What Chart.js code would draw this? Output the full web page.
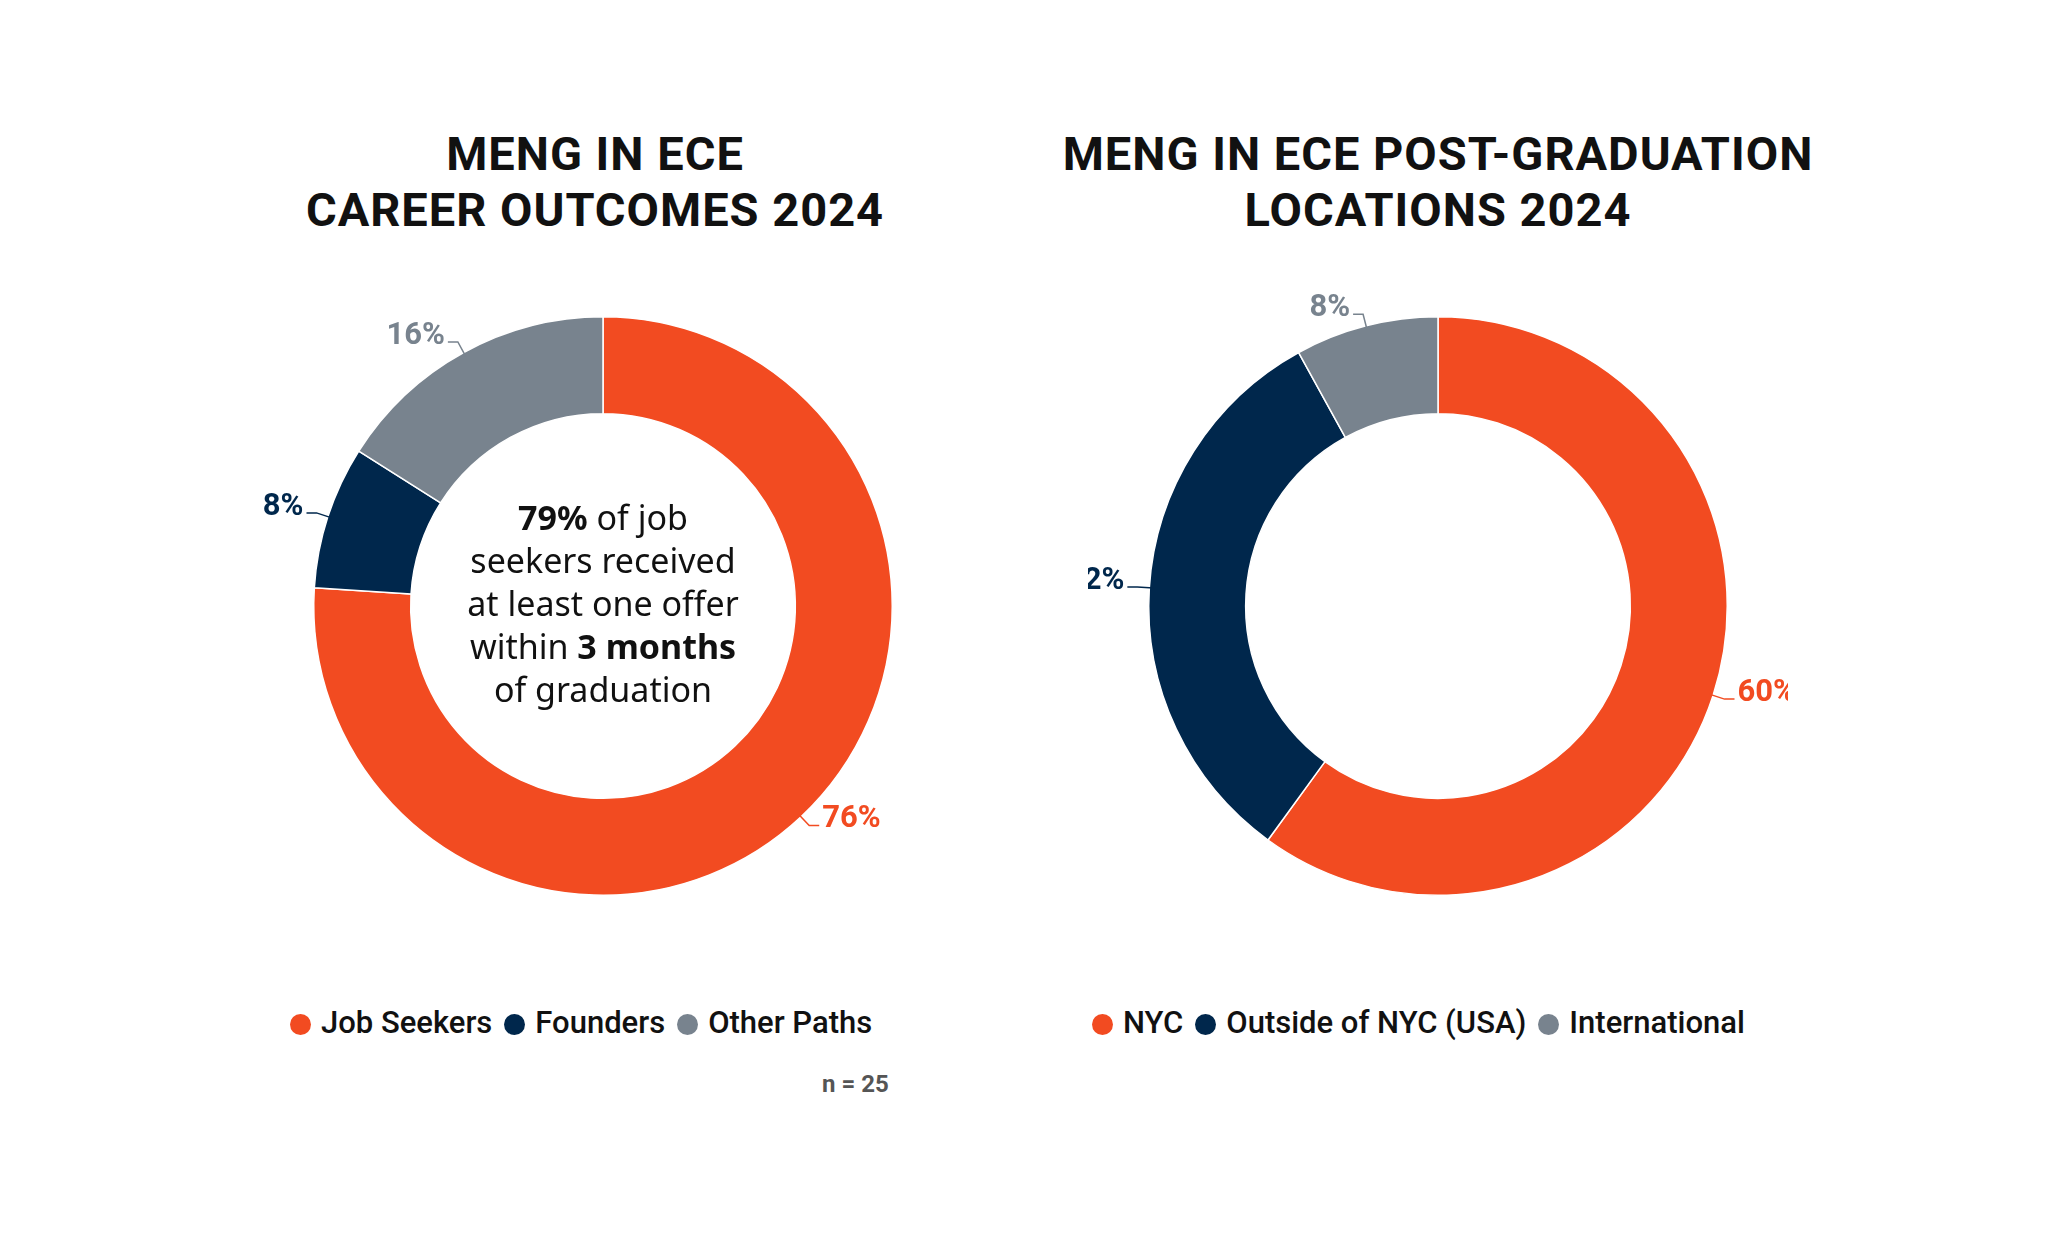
<!DOCTYPE html>
<html>
<head>
<meta charset="utf-8">
<script src="https://cdn.jsdelivr.net/npm/chart.js@4"></script>
<style>
  body { margin: 0; width: 2048px; height: 1236px; background: #fff; position: relative; font-family: "Roboto", sans-serif; overflow: hidden; }
  .title { position: absolute; width: 900px; text-align: center; font-weight: 700; font-size: 47px; line-height: 56px; color: #111; letter-spacing: 1px; }
  .box { position: absolute; width: 700px; height: 700px; }
  .center { position: absolute; left: 403px; top: 496px; width: 400px; text-align: center; font-family: "Noto Sans", sans-serif; font-size: 34px; line-height: 43px; color: #111; }
  .legend { position: absolute; font-weight: 500; font-size: 31px; color: #111; white-space: nowrap; }
  .legend span.dot { display: inline-block; width: 21px; height: 21px; border-radius: 50%; margin: 0 10px 0 12px; vertical-align: -2px; }
  .note { position: absolute; left: 822px; top: 1070px; font-weight: 700; font-size: 24px; color: #555; }
</style>
</head>
<body>
<div class="title" style="left:145px; top:126px;">MENG IN ECE<br>CAREER OUTCOMES 2024</div>
<div class="title" style="left:988px; top:126px;">MENG IN ECE POST-GRADUATION<br>LOCATIONS 2024</div>
<div class="box" style="left:253px; top:256px;"><canvas id="left_graph" width="700" height="700"></canvas></div>
<div class="box" style="left:1088px; top:256px;"><canvas id="right_graph" width="700" height="700"></canvas></div>
<div class="center"><b>79%</b> of job<br>seekers received<br>at least one offer<br>within <b>3 months</b><br>of graduation</div>
<div class="legend" id="left_legend" style="left:278px; top:1004px;"></div>
<div class="legend" id="right_legend" style="left:1080px; top:1004px;"></div>
<div class="note">n = 25</div>

<script>
// dati
var outcomeLabels = ["Job Seekers", "Founders", "Other Paths"];
var outcomeValues = [76, 8, 16];
var locationLabels = ["NYC", "Outside of NYC (USA)", "International"];
var locationValues = [60, 32, 8];
var colors = ["#F24B21", "#00274C", "#78838E"];

//plugin per le etichette con linea guida
var labelPlugin = {
  id: "sliceLabels",
  afterDatasetsDraw: function(chart) {
    var ctx = chart.ctx;
    var meta = chart.getDatasetMeta(0);
    var values = chart.data.datasets[0].data;
    ctx.save();
    meta.data.forEach(function(arc, i) {
      var mid = (arc.startAngle + arc.endAngle) / 2;
      var r = arc.outerRadius;
      var cos = Math.cos(mid), sin = Math.sin(mid);
      var x1 = arc.x + cos * (r - 4), y1 = arc.y + sin * (r - 4);
      var x2 = arc.x + cos * (r + 12), y2 = arc.y + sin * (r + 12);
      var right = cos >= 0;
      var x3 = x2 + (right ? 10 : -10);
      ctx.strokeStyle = colors[i];
      ctx.lineWidth = 1.5;
      ctx.beginPath();
      ctx.moveTo(x1, y1); ctx.lineTo(x2, y2); ctx.lineTo(x3, y2);
      ctx.stroke();
      ctx.fillStyle = colors[i];
      ctx.font = "700 31px Roboto";
      ctx.textAlign = right ? "left" : "right";
      ctx.textBaseline = "middle";
      ctx.fillText(values[i] + "%", x3 + (right ? 3 : -3), y2 - 6);
    });
    ctx.restore();
  }
};

function printDonut(id, labels, values) {
  var ctx = document.getElementById(id).getContext("2d");
  return new Chart(ctx, {
    type: "doughnut",
    data: {
      labels: labels,
      datasets: [{
        data: values,
        backgroundColor: colors,
        borderColor: "#ffffff",
        borderWidth: 1.5
      }]
    },
    options: {
      responsive: false,
      animation: false,
      cutout: "66.5%",
      layout: { padding: 60 },
      plugins: { legend: { display: false }, tooltip: { enabled: false } }
    },
    plugins: [labelPlugin]
  });
}

function printLegend(id, labels) {
  var html = "";
  for (var i = 0; i < labels.length; i++) {
    html += '<span class="dot" style="background:' + colors[i] + '"></span>' + labels[i];
  }
  document.getElementById(id).innerHTML = html;
}

printDonut("left_graph", outcomeLabels, outcomeValues);
printDonut("right_graph", locationLabels, locationValues);
printLegend("left_legend", outcomeLabels);
printLegend("right_legend", locationLabels);
</script>
</body>
</html>
